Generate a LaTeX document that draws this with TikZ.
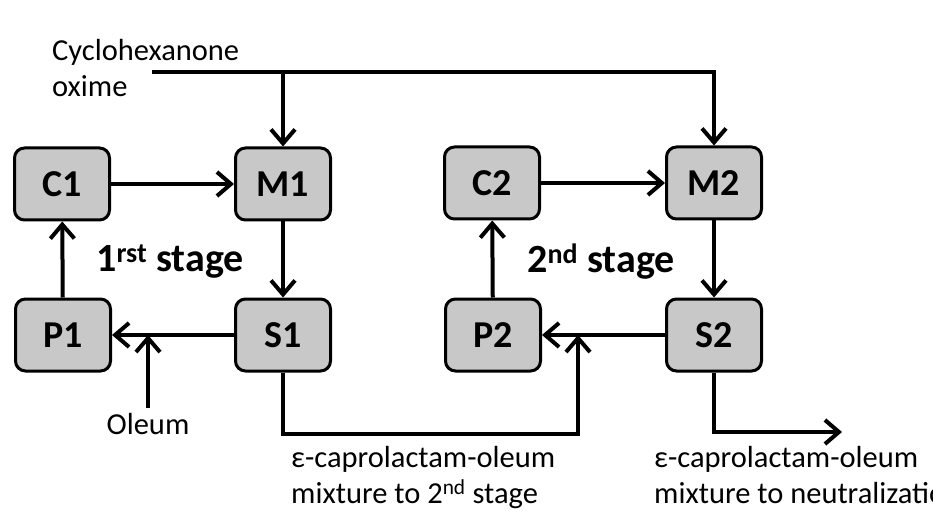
\documentclass[tikz,border=0pt]{standalone}
\usepackage{fontspec}
\setmainfont{Carlito}
\usepackage{tikz}
\usetikzlibrary{arrows.meta}
\definecolor{boxgray}{RGB}{200,200,200}

\begin{document}
\begin{tikzpicture}[x=1pt,y=-1pt,
    unit/.style={draw,line width=3pt,fill=boxgray,rounded corners=10pt,
      minimum width=95pt,minimum height=72pt,font=\fontsize{38}{40}\selectfont\bfseries},
    flow/.style={line width=4pt,-{Straight Barb[length=14pt,width=24pt,line width=4pt]}},
    plain/.style={font=\fontsize{30.5}{36}\selectfont,align=left,inner sep=0pt},
    stagelabel/.style={font=\fontsize{40}{42}\selectfont\bfseries}]
    \useasboundingbox (0,0) rectangle (933,518);
    % units of both stages
    \node[unit] (C1) at (62,184) {C1};
    \node[unit] (M1) at (283,184) {M1};
    \node[unit] (P1) at (63,335) {P1};
    \node[unit] (S1) at (283,335) {S1};
    \node[unit] (C2) at (492,183) {C2};
    \node[unit] (M2) at (714,183) {M2};
    \node[unit] (P2) at (493,335) {P2};
    \node[unit] (S2) at (714,335) {S2};
    \node[stagelabel] (stage1) at (170,262) {1\textsuperscript{rst} stage};
    \node[stagelabel] (stage2) at (601,262) {2\textsuperscript{nd} stage};
    % feed
    \node[plain,anchor=west] (oxime) at (52,68) {Cyclohexanone\\oxime};
    \coordinate (feed) at (152,72);
    \draw[flow] (feed) -| (M2.north);
    \draw[flow] (M1 |- feed) -- (M1.north);
    % first loop
    \draw[flow] (C1) -- (M1);
    \draw[flow] (M1) -- (S1);
    \draw[flow] (S1) -- (P1);
    \draw[flow] (P1) -- (C1);
    \node[plain,anchor=north] (oleum) at (148,413) {Oleum};
    \coordinate (oleumin) at (148,408);
    \draw[flow] (oleumin) -- (oleumin |- S1);
    % second loop
    \draw[flow] (C2) -- (M2);
    \draw[flow] (M2) -- (S2);
    \draw[flow] (S2) -- (P2);
    \draw[flow] (P2) -- (C2);
    \coordinate (join2) at (578,335);
    \draw[flow] (S1.south) -- ++(0,61) -| (join2);
    \node[plain,anchor=north west] (mix1) at (291,446) {ε-caprolactam-oleum\\mixture to 2\textsuperscript{nd} stage};
    \coordinate (out) at (842,432);
    \draw[flow] (S2.south) |- (out);
    \node[plain,anchor=north west] (mix2) at (654,446) {ε-caprolactam-oleum\\mixture to neutralization};
\end{tikzpicture}
\end{document}
